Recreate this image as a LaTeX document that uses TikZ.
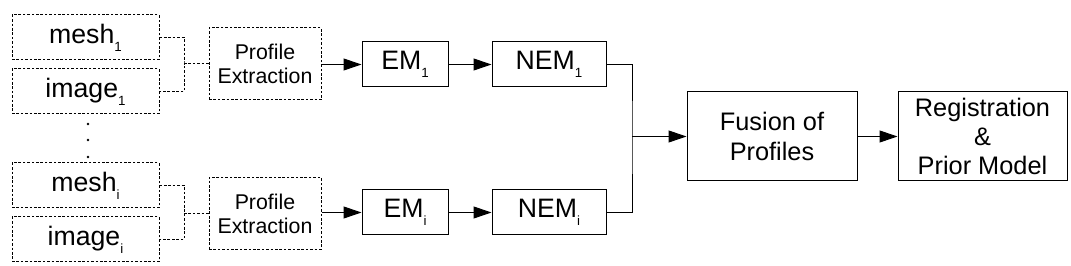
\documentclass[tikz,border=0pt]{standalone}
\usepackage{fontspec}
\setmainfont{Liberation Sans}
\usetikzlibrary{arrows.meta}
\newcommand{\idx}[1]{\raisebox{-0.3em}{\fontsize{10pt}{10pt}\selectfont #1}}
\tikzset{
  inbox/.style={draw, dash pattern=on 2pt off 1.3pt, minimum width=110.25pt, minimum height=33.75pt, inner sep=0pt, font=\fontsize{20pt}{22pt}\selectfont},
  profbox/.style={draw, dash pattern=on 2pt off 1.3pt, minimum width=84pt, minimum height=54pt, inner sep=0pt, align=center, font=\fontsize{16pt}{18pt}\selectfont},
  embox/.style={draw, minimum height=33.75pt, inner sep=0pt, font=\fontsize{20pt}{22pt}\selectfont},
  bigbox/.style={draw, minimum width=127.5pt, minimum height=66.75pt, inner sep=0pt, align=center, font=\fontsize{19pt}{22.5pt}\selectfont},
  dashline/.style={dash pattern=on 2pt off 1.3pt}
}
\begin{document}
\begin{tikzpicture}[x=0.75pt, y=-0.75pt, line width=0.75pt, >={Triangle[length=13.5pt, width=9pt]}]
  \useasboundingbox (0,0) rectangle (1071,266);

  % inputs
  \node[inbox] (mesh1) at (85.5,37.5) {mesh\idx{1}};
  \node[inbox] (image1) at (85.5,91.5) {image\idx{1}};
  \node[inbox] (meshi) at (85.5,185.5) {mesh\idx{i}};
  \node[inbox] (imagei) at (85.5,239.5) {image\idx{i}};
  \foreach \y in {124,140,157}
    \fill (88,\y) circle (1.1pt);

  % profile extraction
  \node[profbox] (prof1) at (265,64) {Profile\\Extraction};
  \node[profbox] (profi) at (265,213.5) {Profile\\Extraction};
  \coordinate (j1) at (184,64);
  \coordinate (ji) at (184,213.5);
  \draw[dashline] (mesh1.east) -| (j1) |- (image1.east);
  \draw[dashline] (j1) -- (prof1.west);
  \draw[dashline] (meshi.east) -| (ji) |- (imagei.east);
  \draw[dashline] (ji) -- (profi.west);

  % models
  \node[embox, minimum width=64.5pt] (em1) at (405,64.5) {EM\idx{1}};
  \node[embox, minimum width=85.5pt] (nem1) at (549,64.5) {NEM\idx{1}};
  \node[embox, minimum width=64.5pt] (emi) at (405,212.5) {EM\idx{i}};
  \node[embox, minimum width=85.5pt] (nemi) at (549,212.5) {NEM\idx{i}};
  \draw[->] (prof1.east |- em1) -- (em1.west);
  \draw[->] (em1.east) -- (nem1.west);
  \draw[->] (profi.east |- emi) -- (emi.west);
  \draw[->] (emi.east) -- (nemi.west);

  % fusion
  \node[bigbox] (fusion) at (772,136.5) {Fusion of\\Profiles};
  \node[bigbox, minimum width=126.75pt, font=\fontsize{19pt}{21.75pt}\selectfont] (reg) at (982.5,136.5) {Registration\\\&\\Prior Model};
  \coordinate (jn) at (632,136.5);
  \draw (nem1.east) -| (jn) |- (nemi.east);
  \draw[->] (jn) -- (fusion.west);
  \draw[->] (fusion.east) -- (reg.west);
\end{tikzpicture}
\end{document}
